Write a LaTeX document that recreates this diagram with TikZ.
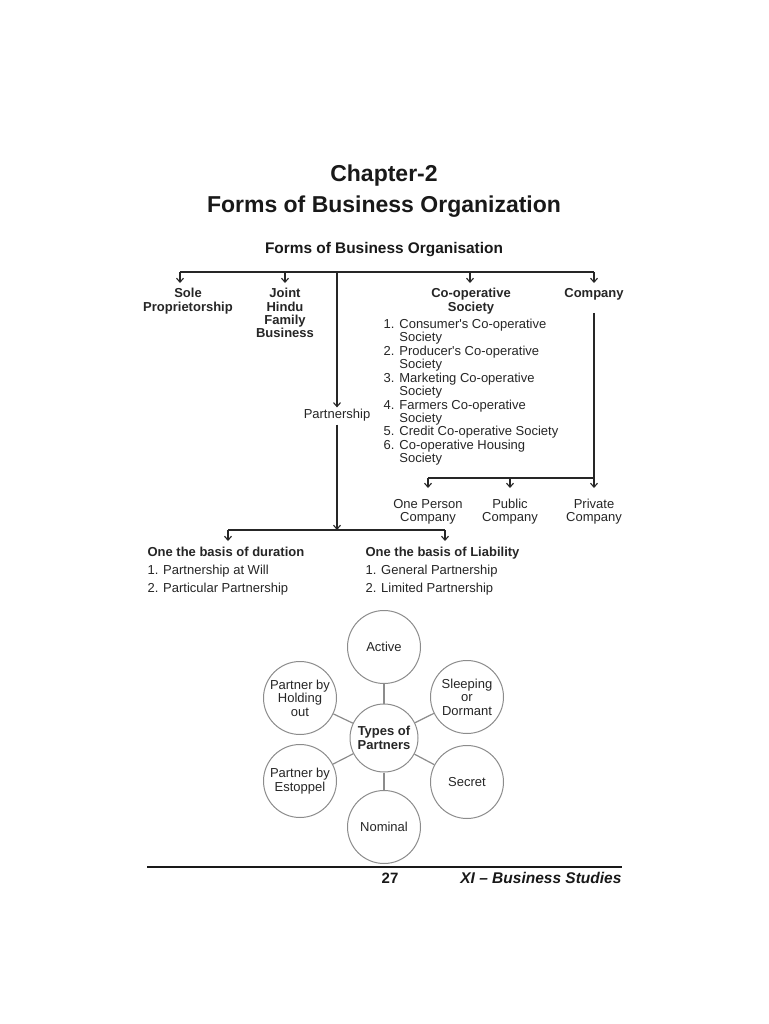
\documentclass[tikz,border=0pt]{standalone}
\usepackage{fontspec}
\setmainfont{Liberation Sans}
\usetikzlibrary{arrows.meta}
\tikzset{
    hd/.style={font=\fontsize{13}{13.3}\selectfont\bfseries,align=center,inner sep=0pt,anchor=north},
    tx/.style={font=\fontsize{13}{13.3}\selectfont,align=center,inner sep=0pt},
    lst/.style={font=\fontsize{13}{18}\selectfont,align=left,inner sep=0pt,anchor=north west},
    pnode/.style={circle,draw=black!45,line width=1pt,minimum size=73pt,inner sep=0pt,
        align=center,font=\fontsize{13}{13.5}\selectfont},
    link/.style={draw=black!45,line width=1.2pt},
    arr/.style={-{Straight Barb[length=4pt,width=7pt]}},
}

\begin{document}
\begin{tikzpicture}[x=1pt,y=-1pt,line width=1.1pt,black!85]
\fill[white] (0,0) rectangle (768,1024);
\useasboundingbox (0,0) rectangle (768,1024);
% titles
\node[font=\fontsize{23}{31}\selectfont\bfseries,align=center,inner sep=0pt,anchor=north,black!90]
    (title) at (384,164) {Chapter-2\\Forms of Business Organization};
\node[font=\fontsize{15.4}{18}\selectfont\bfseries,inner sep=0pt,anchor=north,black!90]
    (forms) at (384,242) {Forms of Business Organisation};
% forms
\node[hd] (sole) at (188,288) {Sole\\Proprietorship};
\node[hd] (jhfb) at (285,288) {Joint\\Hindu\\Family\\Business};
\node[hd] (coop) at (471,288) {Co-operative\\Society};
\node[hd] (comp) at (594,288) {Company};
\node[tx,anchor=north west] (clist) at (383,318.5) {%
    \fontsize{13}{13.4}\selectfont
    \begin{tabular}{@{}l@{\hspace{5pt}}l@{}}
    1.&Consumer\textquotesingle s Co-operative\\&Society\\
    2.&Producer\textquotesingle s Co-operative\\&Society\\
    3.&Marketing Co-operative\\&Society\\
    4.&Farmers Co-operative\\&Society\\
    5.&Credit Co-operative Society\\
    6.&Co-operative Housing\\&Society
    \end{tabular}};
\node[tx] (pship) at (337,415) {Partnership};
\node[tx,anchor=north] (opc) at (428,498.5) {One Person\\Company};
\node[tx,anchor=north] (pub) at (510,498.5) {Public\\Company};
\node[tx,anchor=north] (pvt) at (594,498.5) {Private\\Company};
\node[lst] (dur) at (147,546.5) {\textbf{One the basis of duration}\\1. Partnership at Will\\2. Particular Partnership};
\node[lst] (liab) at (365,546.5) {\textbf{One the basis of Liability}\\1. General Partnership\\2. Limited Partnership};
% connectors
\coordinate (t1) at (180,272);
\coordinate (t2) at (285,272);
\coordinate (tp) at (337,272);
\coordinate (t3) at (470,272);
\coordinate (t4) at (594,272);
\coordinate (cb) at (594,478);
\coordinate (c1) at (428,478);
\coordinate (c2) at (510,478);
\coordinate (pb) at (337,530);
\coordinate (b1) at (228,530);
\coordinate (b2) at (445,530);
\draw (t1) -- (t4);
\draw[arr,shorten >=5pt] (t1) -- (t1 |- sole.north);
\draw[arr,shorten >=5pt] (t2) -- (t2 |- jhfb.north);
\draw[arr,shorten >=5pt] (t3) -- (t3 |- coop.north);
\draw[arr,shorten >=5pt] (t4) -- (t4 |- comp.north);
\draw[arr,shorten >=1pt] (tp) -- (pship);
\draw[arr,shorten <=3pt] (pship) -- (pb);
\draw (b1) -- (b2);
\draw[arr,shorten >=5.5pt] (b1) -- (b1 |- dur.north);
\draw[arr,shorten >=5.5pt] (b2) -- (b2 |- liab.north);
\draw[shorten <=12pt] (comp) -- (cb);
\draw (cb) -- (c1);
\draw[arr,shorten >=10.5pt] (c1) -- (opc);
\draw[arr,shorten >=10.5pt] (c2) -- (pub);
\draw[arr,shorten >=10.5pt] (cb) -- (pvt);
% types of partners
\node[pnode,minimum size=68pt,font=\fontsize{13}{13.5}\selectfont\bfseries] (types) at (384,738) {Types of\\Partners};
\node[pnode] (act) at (384,647) {Active};
\node[pnode] (slp) at (467,697) {Sleeping\\or\\Dormant};
\node[pnode] (sec) at (467,782) {Secret};
\node[pnode] (nom) at (384,827) {Nominal};
\node[pnode] (est) at (300,781) {Partner by\\Estoppel};
\node[pnode] (hold) at (300,698) {Partner by\\Holding\\out};
\foreach \p in {act,slp,sec,nom,est,hold}
    \draw[link] (types) -- (\p);
% footer
\draw[line width=1.8pt,black!90] (147,867) -- (622,867);
\node[font=\fontsize{15}{18}\selectfont\bfseries,inner sep=0pt,black!90] (pg) at (390,878) {27};
\node[font=\fontsize{15.5}{18}\selectfont\bfseries\itshape,inner sep=0pt,anchor=east,black!90]
    (book) at (622,878) {XI – Business Studies};
\end{tikzpicture}
\end{document}
